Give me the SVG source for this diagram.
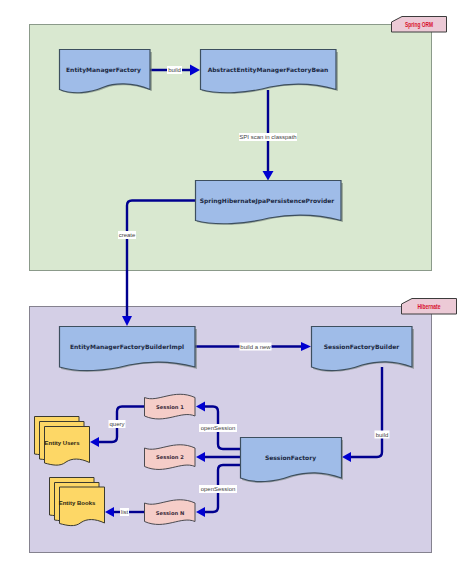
<svg xmlns="http://www.w3.org/2000/svg" width="474" height="566" viewBox="0 0 474 566">
<style>
.frame{stroke-width:1}
.doc{fill:#9fbce8;stroke:#3d4f5f;stroke-width:1.200}
.ses{fill:#f5cdc8;stroke:#4a4a50;stroke-width:1}
.ent{fill:#fdd766;stroke:#3a3a30;stroke-width:1}
.sh{fill:#6f7a70;opacity:.55}
.tag{fill:#eccad6;stroke:#3c3c3c;stroke-width:1}
.n{font:bold 6px "DejaVu Sans",sans-serif;fill:#1c2a44;text-anchor:middle}
.s{font:bold 5.200px "DejaVu Sans",sans-serif;fill:#3a2a3a;text-anchor:middle}
.e{font:bold 6px "Liberation Sans",sans-serif;fill:#2a2410;text-anchor:middle}
.t{font:bold 7px "Liberation Sans",sans-serif;fill:#d8102c;text-anchor:middle}
.lb{fill:#fff}
.l{font:6px "Liberation Sans",sans-serif;fill:#444;text-anchor:middle}
.c{fill:none;stroke:#00008f;stroke-width:2.400}
.a{fill:#0000d0}
</style>
<g id="spring-orm">
<rect class="frame" x="29.500" y="24.500" width="402" height="246" fill="#d9e8d0" stroke="#8b9a8a"/>
<path class="tag" d="M391.500 22L402 16.500H446.500V32H391.500Z"/>
<text class="t" x="419" y="27" textLength="28" lengthAdjust="spacingAndGlyphs">Spring ORM</text>
</g>
<g id="hibernate">
<rect class="frame" x="29.500" y="306.500" width="402" height="246" fill="#d4cfe6" stroke="#85828f"/>
<path class="tag" d="M401.500 304L412 298.500H456.500V314H401.500Z"/>
<text class="t" x="429" y="309" textLength="23" lengthAdjust="spacingAndGlyphs">Hibernate</text>
</g>
<g id="connectors">
<path class="c" d="M150 70H191"/><path class="a" d="M200 70L190 64.500V75.500Z"/>
<path class="c" d="M268 90V171"/><path class="a" d="M268 180.500L262.500 171H273.500Z"/>
<path class="c" d="M195 200.500H132Q127 200.500 127 205.500V316"/><path class="a" d="M127 326L122 316H132Z"/>
<path class="c" d="M195 346.500H302"/><path class="a" d="M311 346.500L301 342V351Z"/>
<path class="c" d="M382 367V452Q382 457 377 457H350"/><path class="a" d="M342 457L351 452V462Z"/>
<path class="c" d="M240 449H223Q218 449 218 444V411.500Q218 406.500 213 406.500H204"/><path class="a" d="M196 406.500L205 401.500V411.500Z"/>
<path class="c" d="M240 457H204"/><path class="a" d="M196 457L205 452V462Z"/>
<path class="c" d="M240 465H223Q218 465 218 470V507Q218 512 213 512H204"/><path class="a" d="M196 512L205 507V517Z"/>
<path class="c" d="M144 406.500H122Q117 406.500 117 411.500V437Q117 442 112 442H98"/><path class="a" d="M90 442L99 437V447Z"/>
<path class="c" d="M144 512H114"/><path class="a" d="M105 512L114 507V517Z"/>
</g>
<g id="edge-labels">
<rect class="lb" x="167" y="66" width="15" height="8"/><text class="l" x="174.500" y="72">build</text>
<rect class="lb" x="239" y="133" width="58" height="8"/><text class="l" x="268" y="139.300">SPI scan in classpath</text>
<rect class="lb" x="118" y="231" width="18" height="8"/><text class="l" x="127" y="237">create</text>
<rect class="lb" x="239.500" y="342.500" width="32" height="8"/><text class="l" x="255.500" y="348.700">build a new</text>
<rect class="lb" x="374.500" y="430.500" width="15" height="8"/><text class="l" x="382" y="436.700">build</text>
<rect class="lb" x="199" y="424" width="38" height="8"/><text class="l" x="218" y="430">openSession</text>
<rect class="lb" x="199" y="485" width="38" height="8"/><text class="l" x="218" y="491">openSession</text>
<rect class="lb" x="108.500" y="420" width="17" height="8"/><text class="l" x="117" y="426.300">query</text>
<rect class="lb" x="120" y="508" width="9" height="8"/><text class="l" x="124.500" y="514">list</text>
</g>
<g id="EntityManagerFactory">
<path class="sh" d="M61 52H152V91C134 84 116 84 106 88C92 94 75 96 61 91Z"/>
<path class="doc" d="M59.500 49.500H150V89.500C132 82 114 83 104 87C90 93 73 95 59.500 89.500Z"/>
<text class="n" x="103.500" y="72">EntityManagerFactory</text>
</g>
<g id="AbstractEntityManagerFactoryBean">
<path class="sh" d="M202 52H338V91C310 84 290 84 272 88C250 94 222 96 202 91Z"/>
<path class="doc" d="M200.500 49.500H336V89.500C310 82 290 83 270 87C248 93 220 95 200.500 89.500Z"/>
<text class="n" x="268" y="72">AbstractEntityManagerFactoryBean</text>
</g>
<g id="SpringHibernateJpaPersistenceProvider">
<path class="sh" d="M197 183H343V222C313 215 291 215 271 219C248 225 218 227 197 222Z"/>
<path class="doc" d="M195.500 180.500H341V220.500C313 213 291 214 269 218C246 224 216 226 195.500 220.500Z"/>
<text class="n" x="267" y="202.500">SpringHibernateJpaPersistenceProvider</text>
</g>
<g id="EntityManagerFactoryBuilderImpl">
<path class="sh" d="M61 329H197V369C169 362 149 362 131 366C109 372 81 374 61 369Z"/>
<path class="doc" d="M59.500 326.500H195V367C169 360 149 361 129 365C107 371 79 373 59.500 367Z"/>
<text class="n" x="127" y="348.500">EntityManagerFactoryBuilderImpl</text>
</g>
<g id="SessionFactoryBuilder">
<path class="sh" d="M313 329H414V369C393 362 378 362 364 366C348 372 328 374 313 369Z"/>
<path class="doc" d="M311.500 326.500H412V367C393 360 378 361 362 365C346 371 326 373 311.500 367Z"/>
<text class="n" x="361.500" y="348.500">SessionFactoryBuilder</text>
</g>
<g id="SessionFactory">
<path class="sh" d="M242 440H343V480C322 473 307 473 293 477C277 483 257 485 242 480Z"/>
<path class="doc" d="M240.500 437.500H341.500V478C322 471 307 472 291 476C275 482 255 484 240.500 478Z"/>
<text class="n" x="290.500" y="459.500">SessionFactory</text>
</g>
<g id="Session1">
<path class="ses" d="M144.500 397.500C158 403 174 388 195 397.500V416C181 410 165 425 144.500 416Z"/>
<text class="s" x="170" y="408.500">Session 1</text>
</g>
<g id="Session2">
<path class="ses" d="M144.500 448C158 453.500 174 438.500 195 448V466.500C181 460.500 165 475.500 144.500 466.500Z"/>
<text class="s" x="170" y="459">Session 2</text>
</g>
<g id="SessionN">
<path class="ses" d="M144.500 503C158 508.500 174 493.500 195 503V521.500C181 515.500 165 530.500 144.500 521.500Z"/>
<text class="s" x="170" y="514.500">Session N</text>
</g>
<g id="EntityUsers">
<path class="ent" d="M34.500 416.500H79V450C70 447 62 448 56 452C50 456 42 455 34.500 454Z"/>
<path class="ent" d="M39.500 421.500H84V455C75 452 67 453 61 457C55 461 47 460 39.500 459Z"/>
<path class="ent" d="M44.500 426.500H89.500V462.500C80 458 72 458 66 462C60 467 52 465 44.500 463Z"/>
<text class="e" x="62" y="444.500">Entity Users</text>
</g>
<g id="EntityBooks">
<path class="ent" d="M49.500 477.500H94V511C85 508 77 509 71 513C65 517 57 516 49.500 515Z"/>
<path class="ent" d="M54.500 482.500H99V516C90 513 82 514 76 518C70 522 62 521 54.500 520Z"/>
<path class="ent" d="M59.500 487H104.500V523C95 518.500 87 518.500 81 522.500C75 527.500 67 525.500 59.500 523.500Z"/>
<text class="e" x="77" y="504.500">Entity Books</text>
</g>
</svg>
